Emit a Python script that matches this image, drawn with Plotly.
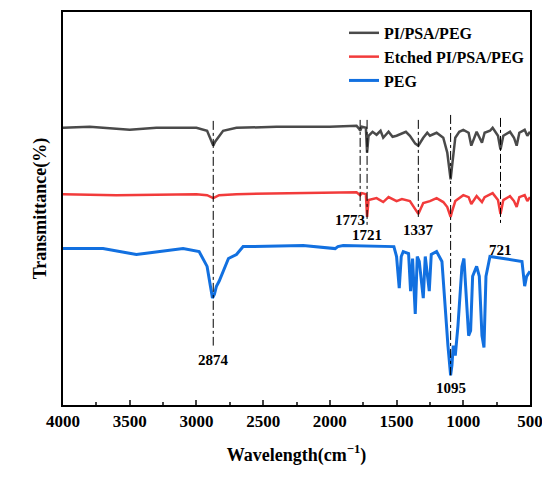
import plotly.graph_objects as go

# Spectra keypoints (wavenumber, offset transmittance in arbitrary units)
pi_wn = [4000, 3800, 3600, 3500, 3300, 3000, 2920, 2890, 2874, 2860, 2800, 2700, 2400, 2000, 1800, 1780,
         1773, 1760, 1730, 1721, 1710, 1680, 1650, 1620, 1600, 1560, 1530, 1500, 1460, 1430, 1400, 1360,
         1337, 1300, 1270, 1250, 1200, 1150, 1120, 1095, 1085, 1060, 1030, 1000, 960, 940, 900, 860, 840,
         800, 780, 740, 721, 700, 650, 620, 600, 580, 540, 520, 500]
pi_t = [280, 281, 279, 278, 280, 280, 277, 268, 262, 266, 277, 280, 281, 281, 282, 279,
        277, 281, 280, 255, 272, 276, 273, 277, 270, 276, 271, 272, 274, 276, 272, 264,
        262, 270, 275, 272, 275, 270, 255, 228, 240, 270, 276, 278, 275, 262, 276, 265, 275,
        277, 280, 272, 258, 272, 276, 270, 262, 275, 278, 272, 276]

etched_wn = [4000, 3600, 3000, 2920, 2874, 2830, 2700, 2000, 1800, 1773, 1760, 1730, 1721, 1710, 1650,
             1600, 1560, 1500, 1460, 1400, 1360, 1337, 1300, 1250, 1200, 1150, 1120, 1095, 1085, 1060,
             1000, 960, 940, 900, 860, 840, 780, 740, 721, 700, 650, 620, 600, 580, 540, 520, 500]
etched_t = [213, 212, 213, 212, 209, 212, 213, 214, 215, 212, 214, 213, 190, 207, 209, 205, 210, 206,
            208, 206, 198, 193, 204, 206, 209, 205, 200, 190, 195, 206, 212, 210, 203, 211, 205, 210,
            214, 207, 193, 207, 211, 206, 200, 210, 212, 206, 210]

peg_wn = [4000, 3700, 3450, 3100, 2980, 2920, 2895, 2880, 2865, 2850, 2830, 2800, 2760, 2700, 2650, 2200,
          1960, 1940, 1900, 1520, 1500, 1480, 1465, 1450, 1410, 1395, 1380, 1360, 1345, 1330, 1300, 1285,
          1255, 1240, 1200, 1160, 1140, 1115, 1095, 1085, 1075, 1060, 1040, 1010, 995, 980, 960, 945, 930,
          900, 880, 860, 845, 830, 800, 700, 560, 540, 525, 500]
peg_t = [158, 158, 152, 158, 155, 140, 120, 108, 112, 120, 125, 135, 148, 152, 160, 161,
         158, 160, 161, 160, 150, 118, 150, 155, 153, 115, 148, 92, 150, 145, 108, 150,
         115, 152, 155, 145, 105, 60, 30, 40, 60, 50, 80, 140, 148, 110, 70, 75, 130,
         140, 130, 70, 58, 130, 150, 148, 145, 120, 130, 135]

# Marked peaks: position, line top, line bottom, label y, label text
peak_pos = [2874, 1773, 1721, 1337, 1095, 721]
peak_top = [287, 288, 288, 288, 293, 290]
peak_bottom = [60, 198, 180, 190, 30, 183]
label_y = [45, 187, 172, 177, 17, 157]
label_text = ['2874', '1773', '1721', '1337', '1095', '721']
label_x = [2874, 1850, 1721, 1337, 1095, 721]

fig = go.Figure()
fig.add_trace(go.Scatter(x=pi_wn, y=pi_t, mode='lines', name='PI/PSA/PEG',
                         line=dict(color='#4a4a4a', width=2.5)))
fig.add_trace(go.Scatter(x=etched_wn, y=etched_t, mode='lines', name='Etched PI/PSA/PEG',
                         line=dict(color='#f23b3b', width=2.5)))
fig.add_trace(go.Scatter(x=peg_wn, y=peg_t, mode='lines', name='PEG',
                         line=dict(color='#1270e0', width=3)))

for p, t, b in zip(peak_pos, peak_top, peak_bottom):
    fig.add_trace(go.Scatter(x=[p, p], y=[t, b], mode='lines', showlegend=False,
                             line=dict(color='black', width=1, dash='dashdot')))

for lx, ly, txt in zip(label_x, label_y, label_text):
    fig.add_annotation(x=lx, y=ly, text=txt, showarrow=False,
                       font=dict(family='Liberation Serif', size=15, color='black', weight='bold'))

fig.update_layout(
    width=550, height=480,
    margin=dict(l=55, r=28, t=2, b=83),
    plot_bgcolor='white', paper_bgcolor='white',
    font=dict(family='Liberation Serif', size=15, color='black', weight='bold'),
    legend=dict(x=1.0, y=0.99, xanchor='right', yanchor='top', tracegroupgap=0,
                font=dict(size=16, family='Liberation Serif', weight='bold'),
                bgcolor='rgba(0,0,0,0)'),
    xaxis=dict(range=[4000, 500], tickvals=[4000, 3500, 3000, 2500, 2000, 1500, 1000, 500],
               title=dict(text='Wavelength(cm<sup>−1</sup>)', font=dict(size=18, weight='bold'),
                          standoff=18),
               showline=True, linecolor='black', linewidth=2, mirror=True,
               ticks='inside', ticklen=5, tickwidth=2, showgrid=False, zeroline=False,
               minor=dict(ticks='inside', ticklen=3, tickwidth=1.5, dtick=250),
               tickfont=dict(size=17, weight='bold')),
    yaxis=dict(range=[0, 397], showticklabels=False,
               title=dict(text='Transmittance(%)', font=dict(size=18, weight='bold'), standoff=10),
               showline=True, linecolor='black', linewidth=2, mirror=True,
               ticks='', showgrid=False, zeroline=False),
)

fig.write_html("out.html")
